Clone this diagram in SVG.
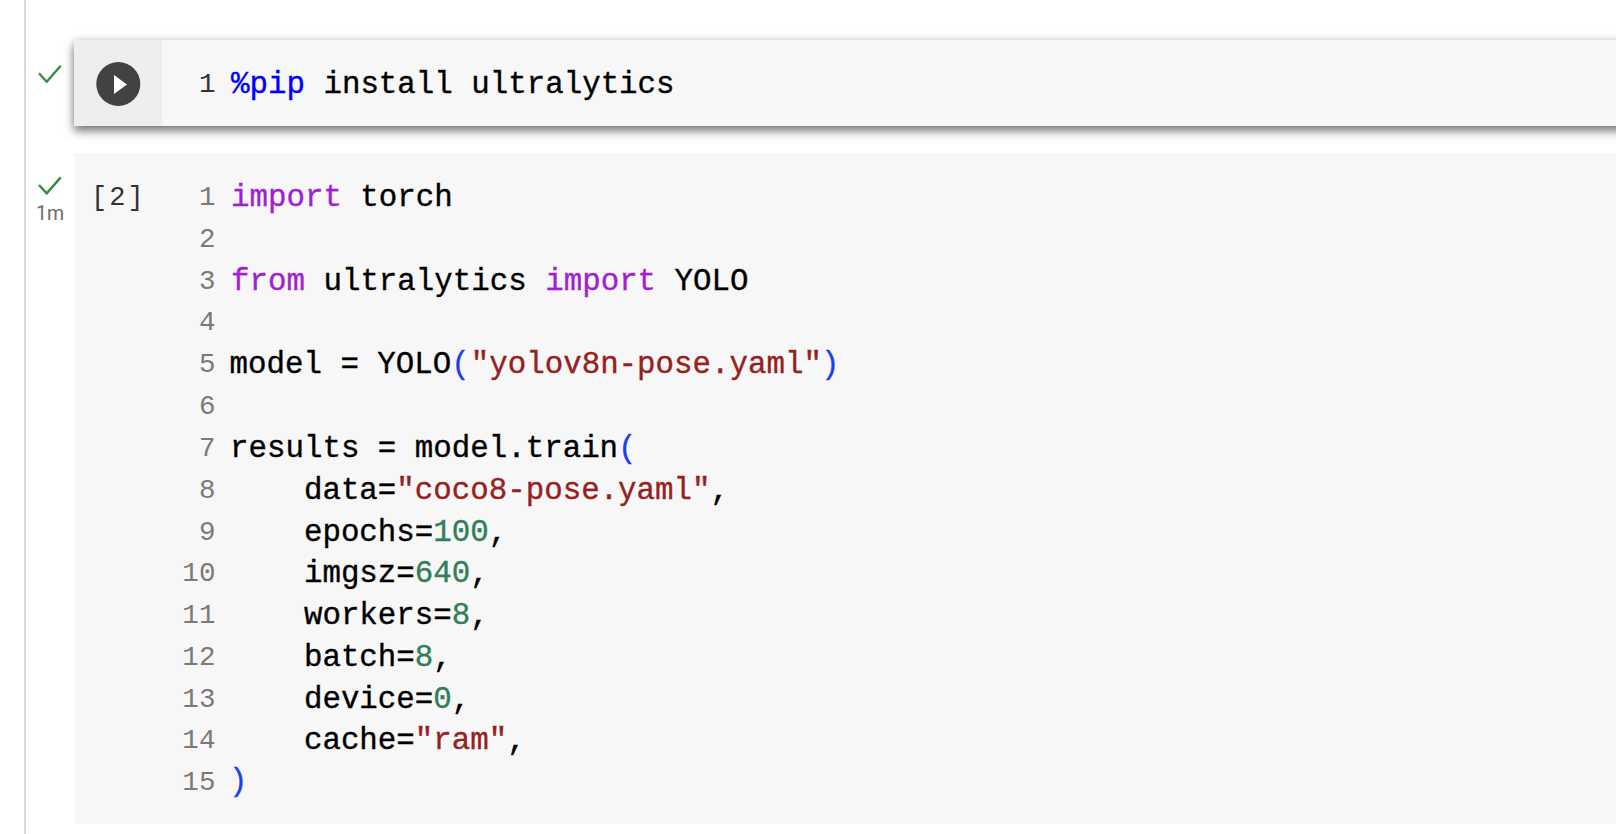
<svg xmlns="http://www.w3.org/2000/svg" width="1616" height="834" viewBox="0 0 1616 834">
<style>
.c{font-family:"Liberation Mono",monospace;font-size:30.8px;fill:#000;white-space:pre;stroke:#000;stroke-width:0.35px}
.n{font-family:"Liberation Mono",monospace;font-size:27.500px;fill:#7a7a7a;text-anchor:end;letter-spacing:0.4px}
.k{fill:#a01fd3;stroke:#a01fd3}.s{fill:#962020;stroke:#962020}.d{fill:#2f7f58;stroke:#2f7f58}.p{fill:#1a3fe8;stroke:#1a3fe8}.b{fill:#0000ff;stroke:#0000ff}
.chk{fill:none;stroke:#3b8a44;stroke-width:2.4}
</style>
<defs>
<filter id="sh" x="-5%" y="-50%" width="110%" height="200%">
<feDropShadow dx="0" dy="0" stdDeviation="5" flood-color="#000" flood-opacity="0.12"/>
<feDropShadow dx="0" dy="5" stdDeviation="5" flood-color="#000" flood-opacity="0.5"/>
</filter>
</defs>
<rect width="1616" height="834" fill="#fff"/>
<rect x="24" y="0" width="2" height="834" fill="#dadada"/>
<g id="cell1">
<rect x="74" y="40" width="1600" height="86" fill="#f7f7f7" filter="url(#sh)"/>
<rect x="74" y="40" width="88" height="86" fill="#eeeeee"/>
<circle cx="118.3" cy="84" r="22" fill="#424242"/>
<path d="M114 75L127 84.500L114 94Z" fill="#fff"/>
<path class="chk" d="M39 73.300L46.700 81.700L60.700 65.700"/>
<text class="n" x="216" y="92" style="fill:#333">1</text>
<text class="c" x="231" y="93"><tspan class="b">%pip</tspan> install ultralytics</text>
</g>
<g id="cell2">
<rect x="74" y="153" width="1542" height="671" fill="#f7f7f7"/>
<path class="chk" d="M39 185L46.700 193.400L60.700 177.400"/>
<text x="36" y="220" font-family="Roboto,sans-serif" font-size="19.500" fill="#6a6a6a">1m</text>
<text x="91" y="205" font-family="'Liberation Mono',monospace" font-size="27" fill="#333" letter-spacing="2">[2]</text>
<text class="n" x="216" y="205">1</text>
<text class="n" x="216" y="247">2</text>
<text class="n" x="216" y="289">3</text>
<text class="n" x="216" y="330">4</text>
<text class="n" x="216" y="372">5</text>
<text class="n" x="216" y="414">6</text>
<text class="n" x="216" y="456">7</text>
<text class="n" x="216" y="498">8</text>
<text class="n" x="216" y="540">9</text>
<text class="n" x="216" y="581">10</text>
<text class="n" x="216" y="623">11</text>
<text class="n" x="216" y="665">12</text>
<text class="n" x="216" y="707">13</text>
<text class="n" x="216" y="748">14</text>
<text class="n" x="216" y="790">15</text>
<text class="c" x="231" y="206"><tspan class="k">import</tspan> torch</text>
<text class="c" x="231" y="290"><tspan class="k">from</tspan> ultralytics <tspan class="k">import</tspan> YOLO</text>
<text class="c" x="229.500" y="373">model = YOLO<tspan class="p">(</tspan><tspan class="s" dx="1">"yolov8n-pose.yaml"</tspan><tspan class="p" dx="-1">)</tspan></text>
<text class="c" x="230" y="457">results = model.train<tspan class="p">(</tspan></text>
<text class="c" x="230" y="499">    data=<tspan class="s">"coco8-pose.yaml"</tspan>,</text>
<text class="c" x="230" y="541">    epochs=<tspan class="d">100</tspan>,</text>
<text class="c" x="230" y="582">    imgsz=<tspan class="d">640</tspan>,</text>
<text class="c" x="230" y="624">    workers=<tspan class="d">8</tspan>,</text>
<text class="c" x="230" y="666">    batch=<tspan class="d">8</tspan>,</text>
<text class="c" x="230" y="708">    device=<tspan class="d">0</tspan>,</text>
<text class="c" x="230" y="749">    cache=<tspan class="s">"ram"</tspan>,</text>
<text class="c p" x="229" y="790">)</text>
</g>
</svg>
